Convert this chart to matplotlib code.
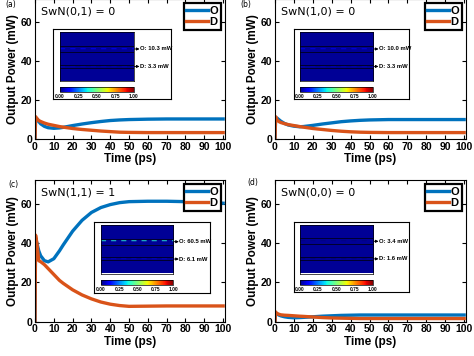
import matplotlib.pyplot as plt
import numpy as np

plt.rcParams['font.family'] = ['Liberation Sans', 'DejaVu Sans']
plt.rcParams['font.weight'] = 'bold'
plt.rcParams['axes.labelweight'] = 'bold'

W, H = 474, 356

# time axis (ps) and output powers (mW)
t_ps = [0, 0.3, 1, 2, 3, 5, 7, 10, 13, 15, 20, 25, 30, 35, 40, 45, 50, 60, 70, 80, 90, 100]
o_a = [0, 9.5, 10.5, 9.0, 7.8, 6.5, 5.8, 5.5, 5.7, 6.0, 6.9, 7.7, 8.4, 9.0, 9.5, 9.8, 10.0, 10.2, 10.3, 10.3, 10.3, 10.3]
d_a = [0, 11.5, 10.5, 9.5, 9.0, 8.2, 7.6, 7.0, 6.4, 6.1, 5.4, 4.9, 4.5, 4.1, 3.8, 3.5, 3.4, 3.3, 3.3, 3.3, 3.3, 3.3]
o_b = [0, 10.0, 10.8, 10.0, 9.2, 8.0, 7.2, 6.6, 6.3, 6.4, 7.0, 7.7, 8.3, 8.9, 9.3, 9.6, 9.8, 10.0, 10.0, 10.0, 10.0, 10.0]
d_b = [0, 11.5, 10.0, 9.0, 8.5, 7.9, 7.4, 6.9, 6.4, 6.1, 5.4, 4.9, 4.4, 4.0, 3.7, 3.5, 3.4, 3.3, 3.3, 3.3, 3.3, 3.3]
o_c = [0, 42, 40, 36, 33.5, 31, 30.4, 32, 36, 39, 46, 51.5, 55.5, 58, 59.5, 60.5, 61, 61.2, 61.2, 61, 60.8, 60.2]
d_c = [0, 44, 40, 31, 30.5, 29, 27, 24, 21, 19.5, 16.2, 13.6, 11.6, 10, 8.9, 8.2, 7.8, 7.9, 8.0, 8.0, 8.0, 8.0]
o_d = [0, 4.5, 4.0, 3.4, 3.0, 2.5, 2.2, 2.0, 2.1, 2.2, 2.5, 2.8, 3.0, 3.2, 3.3, 3.4, 3.4, 3.4, 3.4, 3.4, 3.4, 3.4]
d_d = [0, 5.0, 4.2, 3.8, 3.5, 3.3, 3.2, 3.0, 2.8, 2.7, 2.4, 2.1, 1.9, 1.8, 1.7, 1.6, 1.6, 1.6, 1.6, 1.6, 1.6, 1.6]

titles = ['SwN(0,1) = 0', 'SwN(1,0) = 0', 'SwN(1,1) = 1', 'SwN(0,0) = 0']
panel_tags = ['(a)', '(b)', '(c)', '(d)']
o_labels = ['O: 10.3 mW', 'O: 10.0 mW', 'O: 60.5 mW', 'O: 3.4 mW']
d_labels = ['D: 3.3 mW', 'D: 3.3 mW', 'D: 6.1 mW', 'D: 1.6 mW']
o_field = [0.12, 0.10, 0.40, 0.0]
d_field = [0.05, 0.05, 0.06, 0.0]
cbar_ticks = [0.0, 0.25, 0.5, 0.75, 1.0]

o_series = [o_a, o_b, o_c, o_d]
d_series = [d_a, d_b, d_c, d_d]

blue = '#0072BD'
orange = '#D95319'


def rect(x0, y0, x1, y1):
    # pixel box (from top-left) -> figure fraction
    return [x0 / W, 1 - y1 / H, (x1 - x0) / W, (y1 - y0) / H]


# pixel layout of each panel
axes_px = [(35, -1, 225, 139), (275, -1, 466, 139), (35, 180, 225, 321.7), (275, 180, 466, 321.7)]
frame_px = [(53, 29, 171, 99), (293.5, 29, 409, 99), (94, 222, 210, 293), (294, 222, 409, 292)]
heat_px = [(60, 32.5, 134, 81), (299.5, 32.5, 373, 81), (101, 225.3, 173.3, 273.5), (299.5, 224.7, 373, 273.5)]
cbar_px = [(60, 87, 134, 91.5), (299.5, 87, 373, 91.5), (101, 280.3, 173.3, 284.7), (299.5, 280.3, 373, 284.7)]
tag_px = [(5, 4), (240, 4), (8, 184), (247, 183)]

fig = plt.figure(figsize=(4.74, 3.56), dpi=100)

for i in range(4):
    ax = fig.add_axes(rect(*axes_px[i]))
    ax.plot(t_ps, o_series[i], color=blue, lw=2.4, label='O')
    ax.plot(t_ps, d_series[i], color=orange, lw=2.4, label='D')
    ax.set_xlim(0, 101)
    ax.set_ylim(0, 72)
    ax.set_xticks(range(0, 101, 10))
    ax.set_yticks([0, 20, 40, 60])
    ax.tick_params(direction='in', top=True, right=True, length=3, width=0.8,
                   labelsize=7.5, pad=2)
    for s in ax.spines.values():
        s.set_linewidth(0.8)
    ax.set_xlabel('Time (ps)', fontsize=8.5, labelpad=1)
    ax.set_ylabel('Output Power (mW)', fontsize=8.5, labelpad=1)
    ax.text(0.03, 0.91, titles[i], transform=ax.transAxes, fontsize=8,
            fontweight='normal', family='DejaVu Sans', va='center')
    leg = ax.legend(loc='upper right', fontsize=8, handlelength=2.0,
                    handletextpad=0.1, borderpad=0.2, labelspacing=0.15,
                    borderaxespad=0.4, fancybox=False, framealpha=1)
    leg.get_frame().set_edgecolor('black')
    leg.get_frame().set_linewidth(1.6)

    tx, ty = tag_px[i]
    fig.text(tx / W, 1 - ty / H, panel_tags[i], fontsize=5.5, fontweight='normal',
             family='DejaVu Sans', va='center')

    # inset: simulated field map with colorbar
    fr = fig.add_axes(rect(*frame_px[i]))
    fr.set_xticks([])
    fr.set_yticks([])
    fr.set_facecolor('white')
    for s in fr.spines.values():
        s.set_linewidth(0.8)

    img = np.full((60, 72), 0.02)
    cols = np.arange(72) % 10 < 5
    img[20, cols] = o_field[i]
    img[42, cols] = d_field[i]
    hx = fig.add_axes(rect(*heat_px[i]))
    im = hx.imshow(img, cmap='jet', vmin=0, vmax=1, aspect='auto',
                   extent=(0, 1, 1, 0), interpolation='bilinear')
    for yl in [0.28, 0.40, 0.66, 0.73]:
        hx.axhline(yl, color='black', lw=0.7, alpha=0.7)
    hx.set_xticks([])
    hx.set_yticks([])
    for s in hx.spines.values():
        s.set_linewidth(0.5)

    cx = fig.add_axes(rect(*cbar_px[i]))
    cb = fig.colorbar(im, cax=cx, orientation='horizontal', ticks=cbar_ticks, format='%.2f')
    cb.outline.set_linewidth(0.5)
    cx.tick_params(length=0, labelsize=3.5, pad=1.5)

    x0, y0, x1, y1 = heat_px[i]
    hgt = y1 - y0
    text_x = x1 + 6
    for lab, frac in [(o_labels[i], 0.34), (d_labels[i], 0.70)]:
        yy = y0 + frac * hgt
        fr.annotate('', xy=((text_x - 0.5) / W, 1 - yy / H), xytext=(x1 / W, 1 - yy / H),
                    xycoords='figure fraction', textcoords='figure fraction',
                    arrowprops=dict(arrowstyle='-|>', lw=0.6, color='black',
                                    mutation_scale=4, shrinkA=0, shrinkB=0))
        fig.text(text_x / W, 1 - yy / H, lab, fontsize=4.2, va='center')

fig.savefig('out.png', dpi=100)
